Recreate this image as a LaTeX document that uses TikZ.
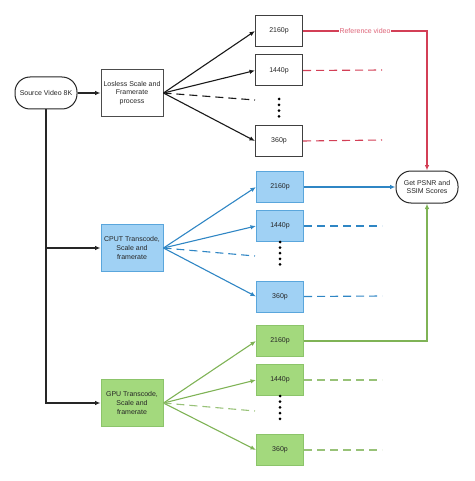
\documentclass[tikz,border=0pt]{standalone}
\usepackage{fontspec}
\setmainfont{Liberation Sans}
\usetikzlibrary{positioning}
\usetikzlibrary{arrows.meta}
\definecolor{refred}{HTML}{D33F56}
\definecolor{reftext}{HTML}{DE6478}
\definecolor{cpublue}{HTML}{2F86C4}
\definecolor{cpuedge}{HTML}{5AA6DC}
\definecolor{cpufill}{HTML}{A0D1F4}
\definecolor{gpugreen}{HTML}{7FB356}
\definecolor{gpuedge}{HTML}{8CC46A}
\definecolor{gpufill}{HTML}{A3D97D}
\tikzset{
  every node/.style={font=\fontsize{7}{8.7}\selectfont, text=black!85},
  proc/.style={draw=black!70, line width=1pt, minimum width=62pt, minimum height=47pt, align=center, inner sep=1pt},
  res/.style={draw=black!75, line width=1pt, minimum width=47pt, minimum height=31pt},
  term/.style={draw=black!85, line width=1pt, rounded corners=15pt, minimum width=62pt, minimum height=32pt, align=center, inner sep=1pt},
  arr/.style={-{Latex[length=5.5pt,width=4.5pt]}, line width=1.1pt},
  open/.style={dash pattern=on 8pt off 5pt, line width=1.1pt},
  vdot/.style={circle, fill=black, inner sep=0pt, minimum size=3pt},
}

\begin{document}
\begin{tikzpicture}[x=1pt, y=-1pt]
    \useasboundingbox (0,0) rectangle (474,481);
    % sources and processing steps
    \node[term] (src) at (46,93) {Source Video 8K};
    \node[proc] (loss) at (132,93) {Losless Scale and\\Framerate\\process};
    \node[proc, fill=cpufill, draw=cpuedge] (cpu) at (132,248) {CPUT Transcode,\\Scale and\\framerate};
    \node[proc, fill=gpufill, draw=gpuedge] (gpu) at (132,403) {GPU Transcode,\\Scale and\\framerate};
    \node[term] (psnr) at (427,187) {Get PSNR and\\SSIM Scores};
    % reference outputs
    \node[res] (t2160) at (279,31) {2160p};
    \node[res, below=7.5pt of t2160] (t1440) {1440p};
    \node[res, below=38.5pt of t1440] (t360) {360p};
    % cpu outputs
    \node[res, fill=cpufill, draw=cpuedge] (c2160) at (280,187) {2160p};
    \node[res, fill=cpufill, draw=cpuedge, below=7pt of c2160] (c1440) {1440p};
    \node[res, fill=cpufill, draw=cpuedge, below=38.5pt of c1440] (c360) {360p};
    % gpu outputs
    \node[res, fill=gpufill, draw=gpuedge] (g2160) at (280,341) {2160p};
    \node[res, fill=gpufill, draw=gpuedge, below=7pt of g2160] (g1440) {1440p};
    \node[res, fill=gpufill, draw=gpuedge, below=38pt of g1440] (g360) {360p};
    % vertical dots
    \foreach \k in {0,...,3} \node[vdot] (tdot\k) at (279,99+5.8*\k) {};
    \foreach \k in {0,...,4} \node[vdot] (cdot\k) at (280,242+5.6*\k) {};
    \foreach \k in {0,...,4} \node[vdot] (gdot\k) at (280,396+5.7*\k) {};
    % free ends
    \coordinate (tmore) at (255,100);
    \coordinate (cmore) at (255,256);
    \coordinate (gmore) at (255,411);
    \coordinate (t1440e) at (382,70);
    \coordinate (t360e) at (382,140);
    \coordinate (c1440e) at (382,226);
    \coordinate (c360e) at (382,296);
    \coordinate (g1440e) at (382,380);
    \coordinate (g360e) at (382,450);
    % source links
    \draw[arr, black!85] (src) -- (loss);
    \draw[arr, black!85] (src.south) |- (gpu.west);
    \draw[arr, black!85] (src.south |- cpu.west) -- (cpu.west);
    % lossless branch
    \draw[arr, black!90] (loss.east) -- (t2160.west);
    \draw[arr, black!90] (loss.east) -- (t1440.west);
    \draw[arr, black!90] (loss.east) -- (t360.west);
    \draw[open, black!90] (loss.east) -- (tmore);
    \draw[open, refred] (t1440.east) -- (t1440e);
    \draw[open, refred] (t360.east) -- (t360e);
    \draw[arr, refred] (t2160.east) -| node[pos=0.25, fill=white, text=reftext, inner sep=0.5pt] {Reference video} (psnr.north);
    % cpu branch
    \draw[arr, cpublue] (cpu.east) -- (c2160.west);
    \draw[arr, cpublue] (cpu.east) -- (c1440.west);
    \draw[arr, cpublue] (cpu.east) -- (c360.west);
    \draw[open, cpublue] (cpu.east) -- (cmore);
    \draw[open, cpublue] (c1440.east) -- (c1440e);
    \draw[open, cpublue] (c360.east) -- (c360e);
    \draw[arr, cpublue] (c2160.east) -- (psnr.west);
    % gpu branch
    \draw[arr, gpugreen] (gpu.east) -- (g2160.west);
    \draw[arr, gpugreen] (gpu.east) -- (g1440.west);
    \draw[arr, gpugreen] (gpu.east) -- (g360.west);
    \draw[open, gpugreen!80] (gpu.east) -- (gmore);
    \draw[open, gpugreen!80] (g1440.east) -- (g1440e);
    \draw[open, gpugreen!80] (g360.east) -- (g360e);
    \draw[arr, gpugreen] (g2160.east) -| (psnr.south);
\end{tikzpicture}
\end{document}
